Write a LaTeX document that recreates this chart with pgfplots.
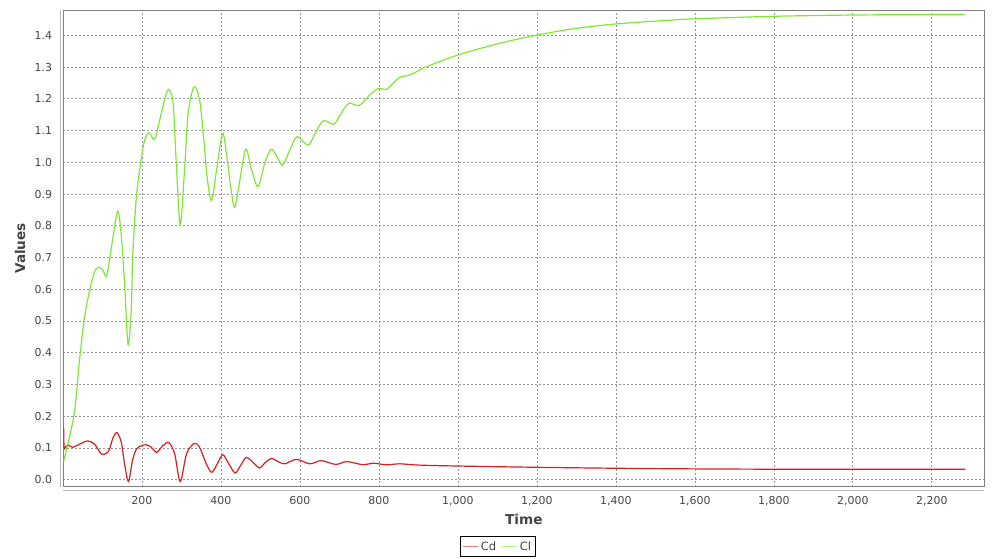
\documentclass[border=0pt]{standalone}
\usepackage{pgfplots}
\pgfplotsset{compat=1.18}
\usepackage{fontspec}
\setmainfont{DejaVu Sans}

\definecolor{cdred}{RGB}{214,32,32}
\definecolor{clgreen}{RGB}{124,232,52}
\definecolor{txtgray}{RGB}{68,68,68}
\definecolor{gridgray}{RGB}{150,150,150}

\begin{document}
\begin{tikzpicture}
% picture frame: 996x559 px, 1px = 0.75pt, axis box lower left at (0,0)
\useasboundingbox (-47.5pt,-54.2pt) rectangle (699.5pt,365pt);
\begin{axis}[
    scale only axis,
    width=690.75pt, height=357.3pt,
    xmin=1, xmax=2333,
    ymin=-0.022, ymax=1.479,
    xtick={200,400,...,2200},
    ytick={0,0.1,...,1.41},
    scaled x ticks=false,
    /pgf/number format/assume math mode=true,
    tick label style={font=\fontsize{8.2}{10}\selectfont, text=txtgray},
    xticklabel style={/pgf/number format/1000 sep={,}, anchor=north, inner sep=0pt, yshift=-7pt},
    yticklabel style={/pgf/number format/fixed, /pgf/number format/fixed zerofill,
        /pgf/number format/precision=1, anchor=east, inner sep=0pt, xshift=-8.3pt},
    major tick length=0pt,
    axis line style={draw=gray, line width=0.7pt},
    xmajorgrids=true, ymajorgrids=true,
    grid style={gridgray, line width=0.5pt, dash pattern=on 1.5pt off 1.5pt},
    xlabel={Time}, ylabel={Values},
    label style={font=\fontsize{10.2}{12}\selectfont\bfseries, text=txtgray},
    xlabel style={at={(axis description cs:0.5,-0.0686)}, anchor=center},
    ylabel style={at={(axis description cs:-0.047,0.5)}, anchor=center},
    legend columns=2,
    legend style={at={(0.472,-0.126)}, anchor=center, draw=black, line width=0.6pt,
        font=\fontsize{8.6}{10}\selectfont, text=txtgray, inner sep=1.5pt,
        /tikz/every even column/.append style={column sep=2pt}},
    legend image code/.code={\draw[#1, line width=0.8pt, opacity=0.6] (0pt,0pt) -- (11pt,0pt);},
]
\addplot[cdred, line width=0.9pt, smooth, tension=0.5] coordinates {
(1,0.158) (2,0.158) (3,0.100) (8,0.105) (13,0.109) (25,0.102) (42,0.112)
(63,0.122) (80,0.112) (97,0.081) (110,0.083) (118,0.096) (127,0.133)
(137,0.148) (148,0.117) (156,0.050) (166,-0.006) (176,0.060) (186,0.096)
(199,0.107) (211,0.110) (224,0.102) (237,0.086) (253,0.107) (268,0.117)
(283,0.081) (297,-0.006) (313,0.081) (332,0.114) (346,0.102) (363,0.050)
(377,0.023) (393,0.055) (405,0.079) (420,0.050) (436,0.021) (450,0.045)
(464,0.070) (481,0.055) (498,0.037) (513,0.055) (528,0.067) (545,0.057)
(562,0.050) (591,0.064) (625,0.050) (654,0.060) (691,0.048) (719,0.057)
(760,0.047) (785,0.052) (819,0.047) (853,0.050) (900,0.046) (1000,0.043)
(1200,0.039) (1400,0.036) (1600,0.034) (1800,0.033) (2000,0.033) (2285,0.033)
};
\addlegendentry{Cd}
\addplot[clgreen, line width=0.9pt, smooth, tension=0.5] coordinates {
(2,0.060) (10,0.100) (17,0.136) (30,0.220) (42,0.377) (55,0.514) (68,0.598)
(80,0.655) (91,0.669) (101,0.660) (110,0.640) (118,0.692) (127,0.766)
(139,0.847) (148,0.766) (156,0.619) (165,0.425) (173,0.535) (177,0.710)
(186,0.892) (199,1.015) (207,1.070) (218,1.093) (232,1.072) (245,1.133)
(258,1.200) (268,1.230) (279,1.186) (287,0.997) (297,0.803) (308,0.976)
(317,1.154) (332,1.238) (346,1.196) (356,1.081) (365,0.955) (376,0.879)
(389,0.976) (404,1.091) (414,1.028) (425,0.920) (435,0.858) (448,0.944)
(463,1.041) (478,0.975) (494,0.923) (511,0.997) (527,1.041) (541,1.020)
(556,0.991) (575,1.040) (593,1.081) (621,1.054) (640,1.095) (660,1.131)
(686,1.120) (705,1.155) (724,1.186) (750,1.179) (777,1.212) (798,1.232)
(819,1.230) (837,1.250) (853,1.268) (878,1.275) (902,1.290) (920,1.301)
(1000,1.338) (1106,1.375) (1201,1.401) (1300,1.422) (1402,1.436) (1528,1.447)
(1600,1.452) (1800,1.460) (2000,1.464) (2150,1.465) (2285,1.466)
};
\addlegendentry{Cl}
\end{axis}
% offset axis lines as in the original
\draw[gray!55, line width=0.7pt] ([xshift=-2.5pt]current axis.south west) -- ([xshift=-2.5pt]current axis.north west);
\draw[gray!55, line width=0.7pt] ([yshift=-2.5pt]current axis.south west) -- ([yshift=-2.5pt]current axis.south east);
\end{tikzpicture}
\end{document}
